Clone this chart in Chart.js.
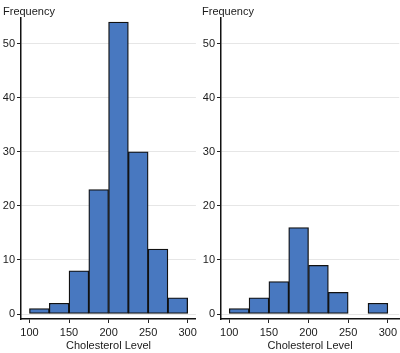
<!DOCTYPE html>
<html>
<head>
<meta charset="utf-8">
<script src="https://cdn.jsdelivr.net/npm/chart.js@4/dist/chart.umd.min.js"></script>
<style>
  html, body { margin: 0; padding: 0; background: #fff; }
  #wrap { position: relative; width: 400px; height: 353px; }
  canvas { position: absolute; top: 0; }
  #c1 { left: 0; }
  #c2 { left: 200px; }
</style>
</head>
<body>
<div id="wrap">
  <canvas id="c1" width="200" height="353"></canvas>
  <canvas id="c2" width="200" height="353"></canvas>
</div>
<script>
// Bin centres (Cholesterol Level, bins of width 25 from 100 to 300)
const binCenters = [112.5, 137.5, 162.5, 187.5, 212.5, 237.5, 262.5, 287.5];
// Frequencies
const leftCounts  = [1, 2, 8, 23, 54, 30, 12, 3];
const rightCounts = [1, 3, 6, 16, 9, 4, 0, 2];
// Tick labels
const xTicks = [100, 150, 200, 250, 300];
const yTicks = [0, 10, 20, 30, 40, 50];
const xTitle = 'Cholesterol Level';
const yTitle = 'Frequency';

const FONT = { family: 'Arial, "Liberation Sans", sans-serif', size: 11, weight: 'normal' };

function makeChart(id, counts, opts) {
  const data = binCenters.map((c, i) => ({ x: c, y: counts[i] === 0 ? null : counts[i] }));
  return new Chart(document.getElementById(id), {
    type: 'bar',
    data: {
      datasets: [{
        data: data,
        backgroundColor: '#4878c0',
        borderColor: '#111',
        borderWidth: 1.3,
        borderSkipped: false,
        barPercentage: 1,
        categoryPercentage: 1
      }]
    },
    options: {
      responsive: false,
      animation: false,
      layout: { padding: { left: opts.padLeft, right: opts.padRight, top: 0, bottom: 0 } },
      plugins: {
        legend: { display: false },
        tooltip: { enabled: false },
        title: {
          display: true,
          text: yTitle,
          align: 'start',
          color: '#1a1a1a',
          font: FONT,
          padding: { top: 5, bottom: 0 }
        }
      },
      scales: {
        x: {
          type: 'linear',
          offset: false,
          min: opts.xMin,
          max: opts.xMax,
          afterBuildTicks: (s) => { s.ticks = xTicks.map(v => ({ value: v })); },
          afterFit: (s) => { s.height = 34; },
          ticks: { color: '#1a1a1a', font: FONT, padding: 3, maxRotation: 0, autoSkip: false },
          grid: { offset: false, drawOnChartArea: false, drawTicks: true, tickLength: 4, tickColor: '#222', tickWidth: 1 },
          border: { display: true, color: '#111', width: 1.5 },
          title: { display: true, text: xTitle, color: '#1a1a1a', font: FONT, padding: { top: 0, bottom: 0 } }
        },
        y: {
          type: 'linear',
          min: -0.92,
          max: 54.7,
          afterBuildTicks: (s) => { s.ticks = yTicks.map(v => ({ value: v })); },
          afterFit: (s) => { s.width = opts.yWidth; },
          ticks: { color: '#1a1a1a', font: FONT, padding: 2, autoSkip: false },
          grid: { color: '#e6e6e6', lineWidth: 1, drawTicks: true, tickLength: 4, tickColor: '#222' },
          border: { display: true, color: '#111', width: 1.5 }
        }
      }
    }
  });
}

makeChart('c1', leftCounts,  { padLeft: 3, padRight: 3, yWidth: 18, xMin: 89.3, xMax: 310.4 });
makeChart('c2', rightCounts, { padLeft: 2, padRight: 0, yWidth: 19, xMin: 89.6, xMax: 314.4 });
</script>
</body>
</html>
